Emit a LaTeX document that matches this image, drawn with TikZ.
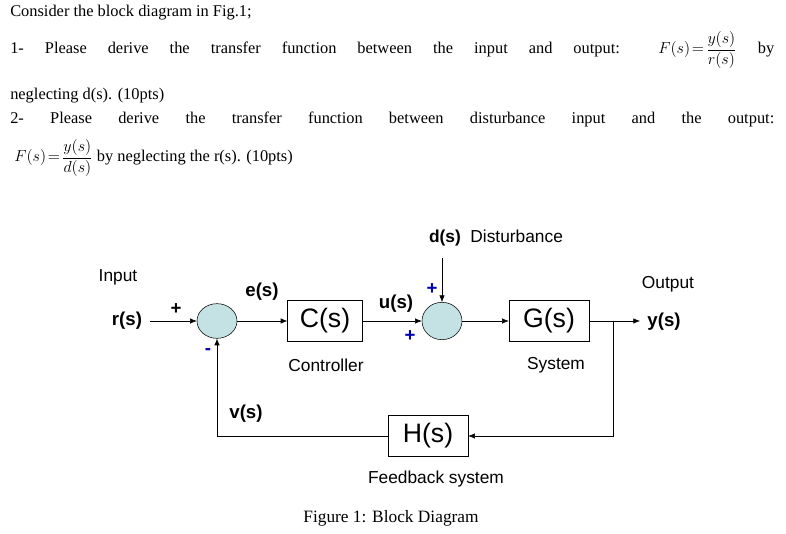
\documentclass[tikz,border=0pt]{standalone}
\usepackage{amsmath}
\usepackage{fontspec}
\setmainfont{Liberation Serif}
\newfontfamily\ar{Liberation Sans}
\usetikzlibrary{arrows.meta,shapes.geometric}
\definecolor{sumfill}{HTML}{C4E2E4}
\begin{document}
\begin{tikzpicture}[x=0.75pt,y=-0.75pt,
  lbl/.style={font=\ar\fontsize{13}{15}\selectfont,inner sep=0pt},
  sg/.style={font=\ar\bfseries\fontsize{14}{15}\selectfont,inner sep=0pt},
  bsg/.style={sg,text=blue!70!black},
  hd/.style={font=\fontsize{12.3}{15}\selectfont,inner sep=0pt,anchor=west},
  blk/.style={draw,minimum width=60pt,minimum height=31pt,inner sep=0pt,font=\ar\fontsize{20}{22}\selectfont},
  sum/.style={draw,ellipse,fill=sumfill,minimum width=30pt,inner sep=0pt},
  arr/.style={-{Latex[length=5pt,width=4pt]}}]
\useasboundingbox (0,0) rectangle (786,534);
% header
\node[hd] (l1) at (10,13) {Consider the block diagram in Fig.1;};
\node[hd] (l2) at (10,50) {\hbox to 573pt{\spaceskip=0.3em plus 1fil 1- Please derive the transfer function between the input and output: $F(s)\!=\!\dfrac{y(s)}{r(s)}$ by}};
\node[hd] (l3) at (10,96) {neglecting d(s). (10pts)};
\node[hd] (l4) at (10,119) {\hbox to 573pt{\spaceskip=0.3em plus 1fil 2- Please derive the transfer function between disturbance input and the output:}};
\node[hd] (l5) at (14,158) {$F(s)\!=\!\dfrac{y(s)}{d(s)}$ by neglecting the r(s). (10pts)};
% blocks
\node[sum,minimum height=26pt] (s1) at (217,321) {};
\node[sum,minimum height=28pt] (s2) at (442,321) {};
\node[blk,minimum width=56pt] (C) at (325,321) {C(s)};
\node[blk] (G) at (549,321) {G(s)};
\node[blk] (H) at (428,436) {H(s)};
\coordinate (rin) at (150,321);
\coordinate (dtop) at (442,258);
\coordinate (br) at (613,321);
\coordinate (yout) at (640,321);
% connectors
\draw[arr] (rin) -- (s1.west);
\draw[arr] (s1.east) -- (C.west);
\draw[arr] (C.east) -- (s2.west);
\draw[arr] (s2.east) -- (G.west);
\draw[arr] (G.east) -- (yout);
\draw[arr] (dtop) -- (s2.north);
\draw[arr] (br) |- (H.east);
\draw[arr] (H.west) -| (s1.south);
% labels
\node[lbl] at (118,277) {Input};
\node[sg] at (127,321) {r(s)};
\node[sg] at (176,309) {+};
\node[bsg] at (208,352) {-};
\node[sg] at (262,292) {e(s)};
\node[sg] at (396,304) {u(s)};
\node[bsg] at (432,289) {+};
\node[bsg] at (410,336) {+};
\node[sg] at (246,414) {v(s)};
\node[lbl] at (326,365) {Controller};
\node[lbl] at (556,365) {System};
\node[lbl] at (668,284) {Output};
\node[sg] at (664,322) {y(s)};
\node[lbl] at (496,238) {\textbf{d(s)}\ \ Disturbance};
\node[lbl] at (436,479) {Feedback system};
\node[font=\fontsize{13}{16}\selectfont,inner sep=0pt] at (391,518) {Figure 1: Block Diagram};
\end{tikzpicture}
\end{document}
